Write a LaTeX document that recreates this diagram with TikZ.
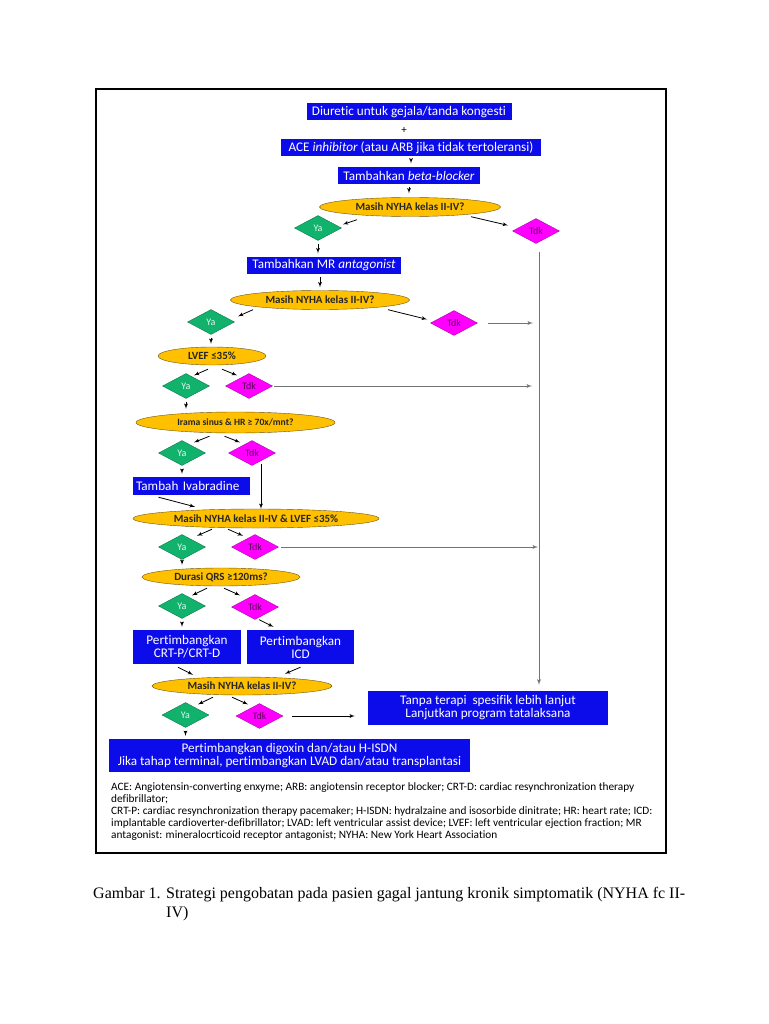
\documentclass[tikz,border=0pt]{standalone}
\usepackage{fontspec}
\setmainfont{Carlito}[Ligatures=NoCommon]
\newfontfamily\captionfont{Liberation Serif}
\usetikzlibrary{arrows,shapes.geometric}

\definecolor{boxblue}{RGB}{12,12,235}
\definecolor{askgold}{RGB}{255,192,0}
\definecolor{askline}{RGB}{110,85,20}
\definecolor{yagreen}{RGB}{16,178,108}
\definecolor{tdkpink}{RGB}{255,0,255}

\begin{document}
\begin{tikzpicture}
    [x=1pt, y=-1pt,
    % Blue therapy boxes
    actionBox/.style={rectangle, fill=boxblue, text=white, align=center, inner xsep=3pt, inner ysep=1pt, minimum height=17pt, font=\fontsize{13.2}{13}\selectfont},
    % Yellow question ellipses
    question/.style={ellipse, draw=askline, fill=askgold, inner sep=0pt, text=black!85, font=\fontsize{11}{12}\selectfont\bfseries},
    % Yes answers
    yaDiamond/.style={diamond, fill=yagreen, draw=yagreen!60!black, line width=0.3pt, minimum width=47pt, minimum height=25pt, inner sep=0pt, text=white!90!yagreen, font=\fontsize{10}{10}\selectfont},
    % No answers
    tdkDiamond/.style={diamond, fill=tdkpink, draw=tdkpink!60!black, line width=0.3pt, minimum width=47pt, minimum height=25pt, inner sep=0pt, text=violet!70!black, font=\fontsize{10}{10}\selectfont},
    line/.style={draw, line width=0.8pt, -latex'},
    stem/.style={line, shorten <=3pt, shorten >=3pt},
    track/.style={draw=black!55, line width=0.9pt, -latex'}]
    \useasboundingbox (0,0) rectangle (768,1024);
    \fill[white] (0,0) rectangle (768,1024);
    \draw[line width=2.5pt] (96,89) rectangle (666,853);

    % First line therapy
    \node[actionBox, minimum width=205pt] (diuretic) at (409,112) {Diuretic untuk gejala/tanda kongesti};
    \node[font=\fontsize{11}{12}\selectfont] (plus) at (404,130) {+};
    \node[actionBox, minimum width=260pt] (ace) at (411,148) {ACE \textit{inhibitor} (atau ARB jika tidak tertoleransi)};
    \node[actionBox, minimum width=142pt] (beta) at (409,176) {Tambahkan \textit{beta-blocker}};
    \node[question, minimum width=181pt, minimum height=19pt] (q1) at (410,207) {Masih NYHA kelas II-IV?};
    \node[yaDiamond] (ya1) at (318,228) {Ya};
    \node[tdkDiamond] (tdk1) at (536,231) {Tdk};

    % MR antagonist
    \node[actionBox, minimum width=154pt] (mra) at (324,265) {Tambahkan MR \textit{antagonist}};
    \node[question, minimum width=179pt, minimum height=19pt] (q2) at (320,300) {Masih NYHA kelas II-IV?};
    \node[yaDiamond] (ya2) at (211,322) {Ya};
    \node[tdkDiamond] (tdk2) at (454,323) {Tdk};
    \node[question, minimum width=108pt, minimum height=18pt] (q3) at (212,356) {LVEF ≤35\%};
    \node[yaDiamond] (ya3) at (186,386) {Ya};
    \node[tdkDiamond] (tdk3) at (249,386) {Tdk};

    % Ivabradine
    \node[question, minimum width=199pt, minimum height=21pt, font=\fontsize{9.6}{12}\selectfont\bfseries] (q4) at (235.5,422.5) {Irama sinus \& HR ≥ 70x/mnt?};
    \node[yaDiamond] (ya4) at (182,453) {Ya};
    \node[tdkDiamond] (tdk4) at (252,453) {Tdk};
    \node[actionBox, text width=111pt, align=left, minimum height=18pt] (ivab) at (191.5,486) {Tambah Ivabradine};
    \node[question, minimum width=246pt, minimum height=19pt] (q5) at (256,518.5) {Masih NYHA kelas II-IV \& LVEF ≤35\%};
    \node[yaDiamond] (ya5) at (182,547) {Ya};
    \node[tdkDiamond] (tdk5) at (255,547) {Tdk};

    % Devices
    \node[question, minimum width=158pt, minimum height=18pt] (q6) at (221,577) {Durasi QRS ≥120ms?};
    \node[yaDiamond] (ya6) at (182,606) {Ya};
    \node[tdkDiamond] (tdk6) at (255,607) {Tdk};
    \node[actionBox, minimum width=108pt, minimum height=34pt] (crt) at (187,647) {Pertimbangkan\\CRT-P/CRT-D};
    \node[actionBox, minimum width=107pt, minimum height=34pt] (icd) at (300.5,647) {Pertimbangkan\\ICD};
    \node[question, minimum width=180pt, minimum height=18pt] (q7) at (242,686) {Masih NYHA kelas II-IV?};
    \node[yaDiamond] (ya7) at (185.5,715) {Ya};
    \node[tdkDiamond] (tdk7) at (259.5,716) {Tdk};

    % End points
    \node[actionBox, minimum width=361pt, minimum height=33pt] (digoxin) at (289.5,755.5) {Pertimbangkan digoxin dan/atau H-ISDN\\Jika tahap terminal, pertimbangkan LVAD dan/atau transplantasi};
    \node[actionBox, minimum width=240pt, minimum height=34pt] (tanpa) at (488,708) {Tanpa terapi\ \ spesifik lebih lanjut\\Lanjutkan program tatalaksana};

    % Abbreviations and caption
    \node[anchor=north west, align=left, inner sep=0pt, font=\fontsize{11.3}{12}\selectfont] (abbrev) at (111,782.5) {ACE: Angiotensin-converting enxyme; ARB: angiotensin receptor blocker; CRT-D: cardiac resynchronization therapy\\defibrillator;\\CRT-P: cardiac resynchronization therapy pacemaker; H-ISDN: hydralzaine and isosorbide dinitrate; HR: heart rate; ICD:\\implantable cardioverter-defibrillator; LVAD: left ventricular assist device; LVEF: left ventricular ejection fraction; MR\\antagonist: mineralocrticoid receptor antagonist; NYHA: New York Heart Association};
    \node[anchor=base west, inner sep=0pt, font=\captionfont\fontsize{16}{19}\selectfont] (gambar) at (93,898) {Gambar 1.};
    \node[anchor=base west, inner sep=0pt, font=\captionfont\fontsize{16}{19}\selectfont] (caption) at (166,898) {Strategi pengobatan pada pasien gagal jantung kronik simptomatik (NYHA fc II-};
    \node[anchor=base west, inner sep=0pt, font=\captionfont\fontsize{16}{19}\selectfont] (captail) at (166,917) {IV)};

    % Main column
    \draw[line, shorten <=3pt, shorten >=4pt] (ace) -- (ace |- beta.north);
    \draw[line, shorten <=2pt, shorten >=4pt] (beta) -- (beta |- q1.north);
    \draw[stem] (ya1) -- (ya1 |- mra.north);
    \draw[stem] (q2 |- mra.south) -- (q2.north);
    \draw[stem] (ya2) -- (ya2 |- q3.north);
    \draw[stem] (ya3) -- (ya3 |- q4.north);
    \draw[stem] (ya4) -- (ya4 |- ivab.north);
    \draw[stem] (ya5) -- (ya5 |- q6.north);
    \draw[stem] (ya6) -- (ya6 |- crt.north);
    \draw[stem] (ya7) -- (ya7 |- digoxin.north);

    % Branches to Ya/Tdk
    \draw[line] ([shift={(-53,3)}]q1.south) -- ([shift={(25,9)}]ya1.north);
    \draw[line] ([shift={(61,0)}]q1.south) -- ([shift={(-28,7)}]tdk1.north);
    \draw[line] ([shift={(-67,0)}]q2.south) -- ([shift={(27,7)}]ya2.north);
    \draw[line] ([shift={(68,0)}]q2.south) -- ([shift={(-27,9)}]tdk2.north);
    \draw[line] ([shift={(-4,4)}]q3.south) -- ([shift={(8,2)}]ya3.north);
    \draw[line] ([shift={(10,4)}]q3.south) -- ([shift={(-12,2)}]tdk3.north);
    \draw[line] ([shift={(-26,3)}]q4.south) -- ([shift={(12,2)}]ya4.north);
    \draw[line] ([shift={(-11,3)}]q4.south) -- ([shift={(-12,2)}]tdk4.north);
    \draw[line] ([shift={(-44,1)}]q5.south) -- ([shift={(15,1.5)}]ya5.north);
    \draw[line] ([shift={(-28,1)}]q5.south) -- ([shift={(-12,1.5)}]tdk5.north);
    \draw[line] ([shift={(-14,2)}]q6.south) -- ([shift={(10,2)}]ya6.north);
    \draw[line] ([shift={(3,2)}]q6.south) -- ([shift={(-15,1)}]tdk6.north);
    \draw[line] ([shift={(-29,2)}]q7.south) -- ([shift={(12.5,2)}]ya7.north);
    \draw[line] ([shift={(-10,2)}]q7.south) -- ([shift={(-11.5,1)}]tdk7.north);

    % Joins
    \draw[line] ([shift={(9,-2)}]tdk4.south) -- ([xshift=9pt]tdk4.south |- q5.north);
    \draw[line] ([shift={(-33,2)}]ivab.south) -- ([shift={(-61,-2)}]q5.north);
    \draw[line] ([shift={(4,0)}]tdk6.south) -- ([shift={(-27,-3)}]icd.north);
    \draw[line] ([shift={(-9,3)}]crt.south) -- ([shift={(-49,-2)}]q7.north);
    \draw[line] ([shift={(0,3)}]icd.south) -- ([shift={(43,-3)}]q7.north);

    % No further therapy
    \coordinate (rail) at ([xshift=3pt]tdk1.south);
    \draw[track, shorten <=8pt, shorten >=6pt] (rail) -- (rail |- tanpa.north);
    \draw[track, shorten <=10pt, shorten >=6pt] (tdk2.east) -- (tdk2.east -| rail);
    \draw[track, shorten <=1pt, shorten >=7pt] (tdk3.east) -- (tdk3.east -| rail);
    \draw[track, shorten <=2pt, shorten >=1pt] (tdk5.east) -- (tdk5.east -| rail);
    \draw[line, shorten <=9pt, shorten >=13pt] (tdk7.east) -- (tdk7.east -| tanpa.west);
\end{tikzpicture}
\end{document}
